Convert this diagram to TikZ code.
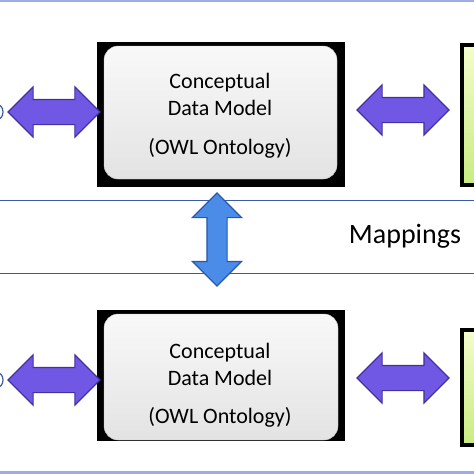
\documentclass[tikz,border=0pt]{standalone}
\usepackage{fontspec}
\setmainfont{Carlito}
\usetikzlibrary{shapes.arrows}
\definecolor{bandblue}{RGB}{160,172,232}
\definecolor{ruleblue}{RGB}{60,90,170}
\definecolor{purplefill}{RGB}{112,88,228}
\definecolor{purpleline}{RGB}{68,48,160}
\definecolor{mapfill}{RGB}{74,140,232}
\definecolor{mapline}{RGB}{40,88,170}
\definecolor{greentop}{RGB}{244,252,204}
\definecolor{greenbot}{RGB}{200,236,128}
\tikzset{
  frame/.style={fill=black, draw=none, inner sep=0pt},
  model/.style={rounded corners=14pt, top color=gray!5, bottom color=gray!22,
    draw=gray!45, inner sep=0pt},
  modeltext/.style={align=center, font=\fontsize{22}{27}\selectfont},
  source/.style={draw=black, line width=4pt, top color=greentop,
    bottom color=greenbot, inner sep=0pt},
  linkarrow/.style={double arrow, draw=purpleline, fill=purplefill,
    line width=1.2pt, inner sep=0pt, text height=24pt, text depth=0pt,
    minimum height=92pt, minimum width=49pt, double arrow head extend=12.5pt},
  maparrow/.style={double arrow, draw=mapline, fill=mapfill, line width=1.2pt,
    inner sep=0pt, rotate=90, text height=19pt, text depth=0pt,
    minimum height=93pt, minimum width=48pt, double arrow head extend=14.5pt}
}
\begin{document}
\begin{tikzpicture}[x=1pt,y=-1pt]
    \useasboundingbox (0,0) rectangle (474,474);
    \clip (0,0) rectangle (474,474);
    % rules across the page
    \draw[bandblue, line width=2.5pt] (0,1) -- (474,1);
    \draw[ruleblue, line width=0.8pt] (0,200) -- (474,200);
    \draw[ruleblue, line width=0.8pt] (0,273) -- (474,273);
    \draw[bandblue, line width=3pt] (0,472) -- (474,472);
    % upper model
    \node[frame, minimum width=248pt, minimum height=145pt] (frameTop) at (221,114.5) {};
    \node[model, minimum width=233pt, minimum height=133pt] (cdmTop) at (220.5,112.5) {};
    \node[modeltext] (txtTop) at (220,115.5) {Conceptual\\Data Model\\[11.5pt](OWL Ontology)};
    % lower model
    \node[frame, minimum width=248pt, minimum height=131pt] (frameBot) at (221,375.5) {};
    \node[model, minimum width=234pt, minimum height=126pt] (cdmBot) at (221,377) {};
    \node[modeltext] (txtBot) at (220,385) {Conceptual\\Data Model\\[11.5pt](OWL Ontology)};
    % sources on the right
    \node[source, minimum width=36pt, minimum height=140pt] (srcTop) at (480,115) {};
    \node[source, minimum width=36pt, minimum height=115pt] (srcBot) at (480,387.5) {};
    % cut-off shapes on the left
    \draw[ruleblue, line width=1.2pt] (-2,112) ellipse (5 and 7);
    \draw[ruleblue, line width=1.2pt] (-2,380) ellipse (5 and 7);
    % links
    \node[linkarrow] (linkTopL) at (54,112) {};
    \node[linkarrow] (linkTopR) at (403,110) {};
    \node[linkarrow] (linkBotL) at (54,380) {};
    \node[linkarrow] (linkBotR) at (403,378) {};
    \node[maparrow] (mapArrow) at (217,239.5) {};
    \node[font=\fontsize{28}{33}\selectfont] (mapLabel) at (405,236) {Mappings};
\end{tikzpicture}
\end{document}
